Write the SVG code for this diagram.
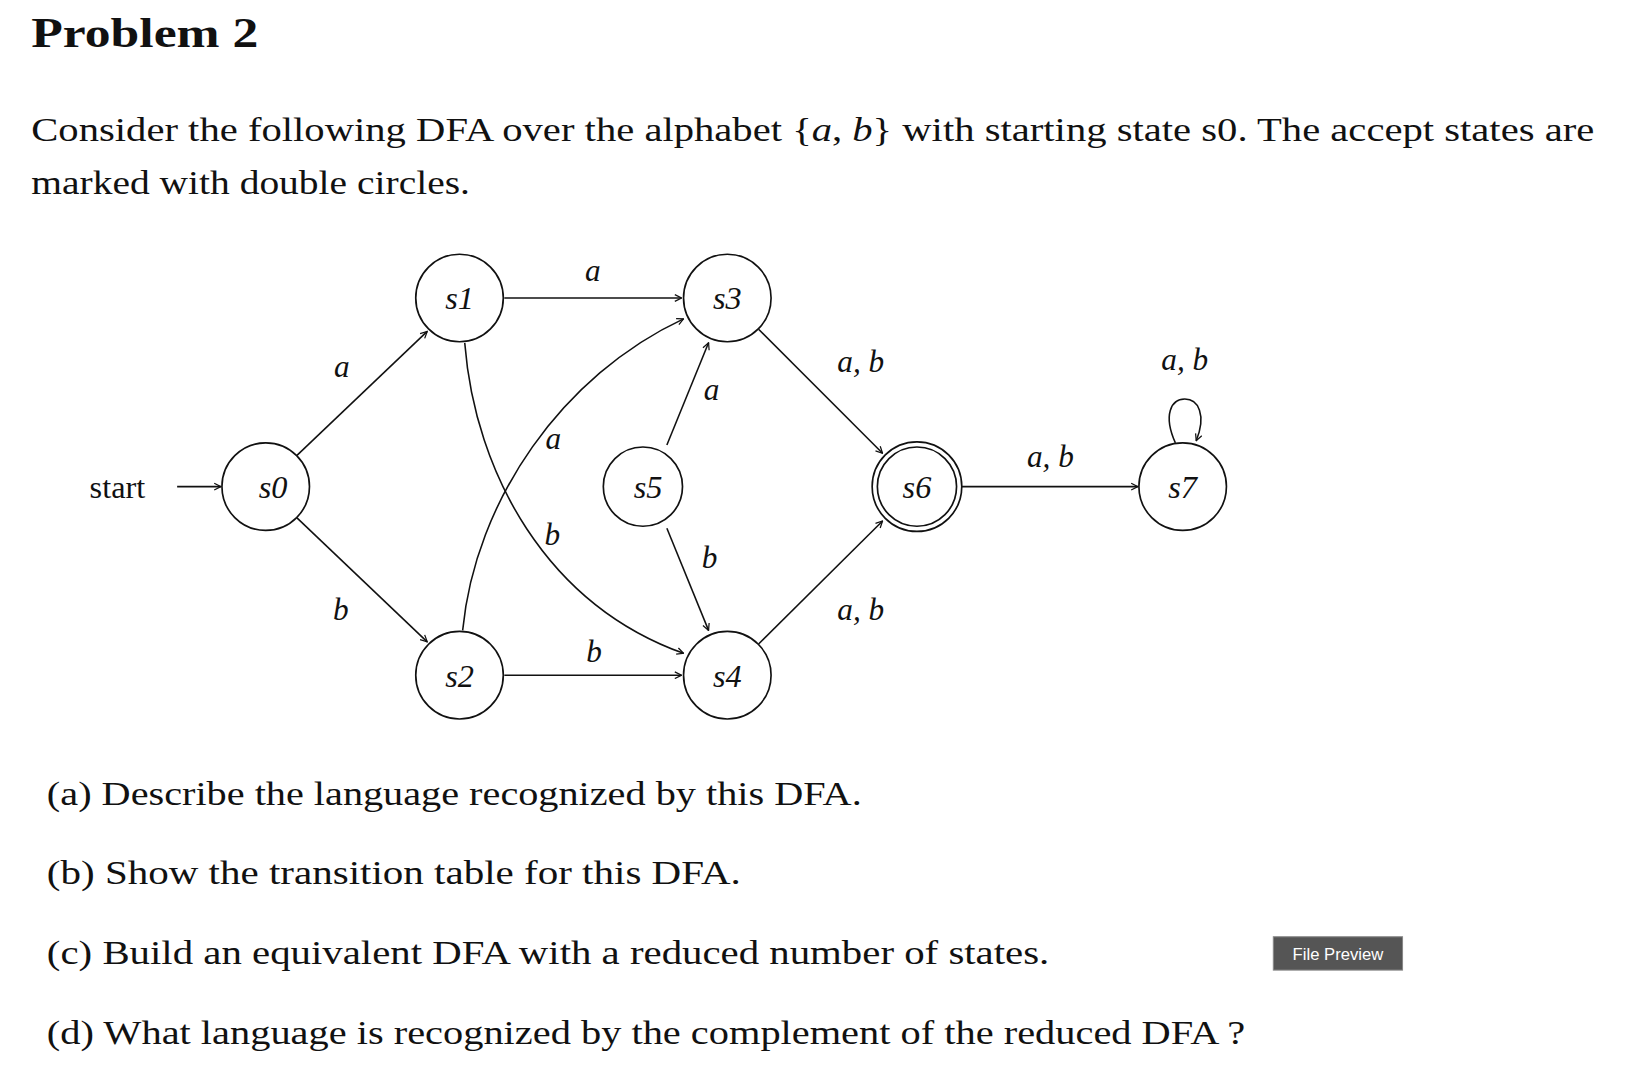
<svg xmlns="http://www.w3.org/2000/svg" width="1628" height="1080" viewBox="0 0 1628 1080">
<style>
text{font-family:"Liberation Serif","DejaVu Serif",serif;fill:#111}
.t{font-size:33px}
.n{font-size:31px;font-style:italic;text-anchor:middle}
.l{font-size:30px;font-style:italic;text-anchor:middle}
circle{fill:#fff;stroke:#111;stroke-width:1.6}
.e{fill:none;stroke:#111;stroke-width:1.5;marker-end:url(#ar)}
</style>
<defs><marker id="ar" viewBox="0 0 10 10" refX="9" refY="5" markerWidth="8" markerHeight="8" orient="auto" markerUnits="userSpaceOnUse"><path d="M1,1 L9,5 L1,9" fill="none" stroke="#111" stroke-width="1.5"/></marker></defs>
<rect width="1628" height="1080" fill="#fff"/>
<g transform="scale(1.042)">
<text x="30" y="45" style="font-size:40px;font-weight:bold" textLength="218" lengthAdjust="spacingAndGlyphs">Problem 2</text>
<text class="t" x="30" y="135" textLength="1500" lengthAdjust="spacingAndGlyphs">Consider the following DFA over the alphabet {<tspan font-style="italic">a</tspan>, <tspan font-style="italic">b</tspan>} with starting state s0. The accept states are</text>
<text class="t" x="30" y="186" textLength="421" lengthAdjust="spacingAndGlyphs">marked with double circles.</text>
<g id="connectors">
<path class="e" d="M170,467 L212,467"/>
<path class="e" d="M285,437 L410,318"/>
<path class="e" d="M285,497 L410,616"/>
<path class="e" d="M484,286 L654,286"/>
<path class="e" d="M484,648 L654,648"/>
<path class="e" d="M446,329 C456,455 525,580 656,627"/>
<path class="e" d="M444,605 C456,480 540,360 656,306"/>
<path class="e" d="M640,427 L680,329"/>
<path class="e" d="M640,507 L680,605"/>
<path class="e" d="M728,316 L847,435"/>
<path class="e" d="M728,618 L847,500"/>
<path class="e" d="M923,467 L1092,467"/>
<path class="e" d="M1128,425 C1116,398 1124,383 1137,383 C1150,383 1158,398 1148,423"/>
<text x="86" y="478" style="font-size:31px">start</text>
<text class="l" x="328" y="362">a</text>
<text class="l" x="569" y="270">a</text>
<text class="l" x="826" y="357">a, b</text>
<text class="l" x="683" y="384">a</text>
<text class="l" x="531" y="431">a</text>
<text class="l" x="530" y="523">b</text>
<text class="l" x="681" y="545">b</text>
<text class="l" x="327" y="595">b</text>
<text class="l" x="570" y="635">b</text>
<text class="l" x="826" y="595">a, b</text>
<text class="l" x="1008" y="448">a, b</text>
<text class="l" x="1137" y="355">a, b</text>
</g>
<g id="s0"><circle cx="255" cy="467" r="42"/><text class="n" x="262" y="478">s0</text></g>
<g id="s1"><circle cx="441" cy="286" r="42"/><text class="n" x="441" y="297">s1</text></g>
<g id="s2"><circle cx="441" cy="648" r="42"/><text class="n" x="441" y="659">s2</text></g>
<g id="s3"><circle cx="698" cy="286" r="42"/><text class="n" x="698" y="297">s3</text></g>
<g id="s4"><circle cx="698" cy="648" r="42"/><text class="n" x="698" y="659">s4</text></g>
<g id="s5"><circle cx="617" cy="467" r="38"/><text class="n" x="622" y="478">s5</text></g>
<g id="s6"><circle cx="880" cy="467" r="43"/><circle cx="880" cy="467" r="38"/><text class="n" x="880" y="478">s6</text></g>
<g id="s7"><circle cx="1135" cy="467" r="42"/><text class="n" x="1135" y="478">s7</text></g>
<text class="t" x="45" y="773" textLength="782" lengthAdjust="spacingAndGlyphs">(a) Describe the language recognized by this DFA.</text>
<text class="t" x="45" y="848" textLength="666" lengthAdjust="spacingAndGlyphs">(b) Show the transition table for this DFA.</text>
<text class="t" x="45" y="925" textLength="962" lengthAdjust="spacingAndGlyphs">(c) Build an equivalent DFA with a reduced number of states.</text>
<text class="t" x="45" y="1002" textLength="1150" lengthAdjust="spacingAndGlyphs">(d) What language is recognized by the complement of the reduced DFA ?</text>
<g id="filepreview"><rect x="1222" y="899" width="124" height="32" fill="#555" stroke="#888"/><text x="1284" y="921" style="font-family:'Liberation Sans',sans-serif;font-size:16px;fill:#fff;text-anchor:middle">File Preview</text></g>
</g>
</svg>
